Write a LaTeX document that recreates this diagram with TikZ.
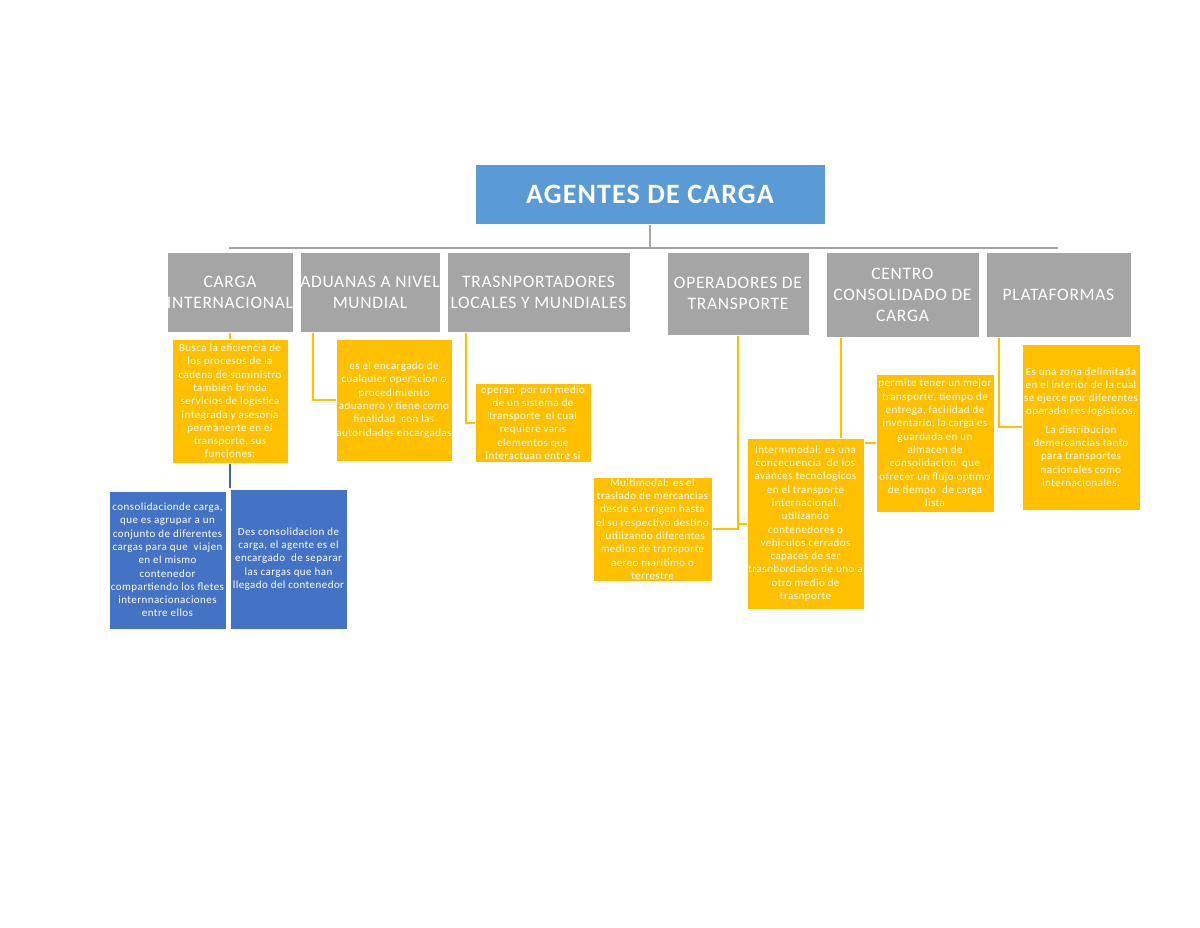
\documentclass[tikz,border=0pt]{standalone}
\usepackage{fontspec}
\setmainfont{Carlito}[LetterSpace=4]
\usetikzlibrary{backgrounds}
\definecolor{hgray}{HTML}{A5A5A5}
\definecolor{tblue}{HTML}{5B9BD5}
\definecolor{yel}{HTML}{FFC000}
\definecolor{dblue}{HTML}{4472C4}
\definecolor{lblue}{HTML}{3A65B5}
\begin{document}
\begin{tikzpicture}[x=1pt,y=-1pt,
  box/.style={rectangle, inner sep=0pt, align=center, text=white, draw=white, line width=0.8pt},
  titlebox/.style={box, fill=tblue, font=\fontsize{28}{32}\selectfont\bfseries},
  headbox/.style={box, fill=hgray, font=\fontsize{17.5}{21}\selectfont},
  ybox/.style={box, fill=yel, font=\fontsize{11}{13.3}\selectfont},
  bbox/.style={box, fill=dblue, font=\fontsize{11}{13.3}\selectfont},
  gline/.style={draw=hgray, line width=2pt},
  yline/.style={draw=yel, line width=2pt},
  bline/.style={draw=lblue, line width=2pt},
  wh/.style 2 args={minimum width=#1pt, minimum height=#2pt}
]
\useasboundingbox (0,0) rectangle (1200,927);

% title
\node[titlebox, wh={350}{60}] (title) at (650,194.5) {AGENTES DE CARGA};

% header boxes
\node[headbox, wh={126}{80}] (h1) at (230,292) {CARGA\\INTERNACIONAL};
\node[headbox, wh={140}{80}] (h2) at (370,292) {ADUANAS A NIVEL\\MUNDIAL};
\node[headbox, wh={183}{80}] (h3) at (538.5,292) {TRASNPORTADORES\\LOCALES Y MUNDIALES};
\node[headbox, wh={142}{83}] (h4) at (738,293.5) {OPERADORES DE\\TRANSPORTE};
\node[headbox, wh={153}{85}] (h5) at (902.5,294.5) {CENTRO\\CONSOLIDADO DE\\CARGA};
\node[headbox, wh={145}{85}] (h6) at (1058.5,294.5) {PLATAFORMAS};

% detail boxes
\node[ybox, wh={116}{124}] (busca) at (230,401) {Busca la eficiencia de\\los procesos de la\\cadena de suministro\\también brinda\\servicios de logística\\integrada y asesoría\\permanente en el\\transporte, sus\\funciones:};
\node[ybox, wh={116}{122}] (adu) at (394,400) {es el encargado de\\cualquier operacion o\\procedimiento\\aduanero y tiene como\\finalidad\ \ con las\\autoridades encargadas};
\node[ybox, wh={116}{79}] (tra) at (533,422.5) {operan\ \ por un medio\\de un sistema de\\transporte\ \ el cual\\requiere varis\\elementos que\\interactuan entre si};
\node[bbox, wh={117}{138}] (b1) at (167.5,560) {consolidacionde carga,\\que es agrupar a un\\conjunto de diferentes\\cargas para que\ \ viajen\\en el mismo\\contenedor\\compartiendo los fletes\\internnacionaciones\\entre ellos};
\node[bbox, wh={117}{140}] (b2) at (288.5,559) {Des consolidacion de\\carga, el agente es el\\encargado\ \ de separar\\las cargas que han\\llegado del contenedor};
\node[ybox, wh={119}{104}] (multi) at (652.5,529) {Multimodal: es el\\traslado de mercancias\\desde su origen hasta\\el su respectivo destino\\, utilizando diferentes\\medios de transporte\\aereo maritimo o\\terrestre};
\node[ybox, wh={117}{171}] (inter) at (805.5,523.5) {Intermmodal: es una\\concecuencia\ \ de los\\avances tecnologicos\\en el transporte\\internacional,\\utilizando\\contenedores o\\vehiculos cerrados\\capaces de ser\\trasnbordados de uno a\\otro medio de\\trasnporte};
\node[ybox, wh={118}{138}] (perm) at (935,443) {permite tener un mejor\\transporte, tiempo de\\entrega, facilidad de\\inventario, la carga es\\guardada en un\\almacen de\\consolidacion\ \ que\\ofrecer un flujo optimo\\de tiempo\ \ de carga\\lista};
\node[ybox, wh={118}{166}] (plat) at (1081,427) {Es una zona delimitada\\en el interior de la cual\\se ejerce por diferentes\\operadorres logisticos.\\[5pt]La distribucion\\demercancias tanto\\para transportes\\nacionales como\\internacionales.};

% free ends of the connectors
\coordinate (hm) at (650,248);
\coordinate (hl) at (229,248);
\coordinate (hr) at (1058,248);
\coordinate (bj) at (230,488);

\begin{scope}[on background layer]
  \fill[white] (0,0) rectangle (1200,927);
  \draw[gline] (title.south) -- (hm);
  \draw[gline] (hl) -- (hr);
  \draw[yline] (h1.south) -- (busca.north);
  \draw[bline] (busca.south) -- (bj);
  \draw[yline] ([xshift=-57pt,yshift=3pt]h2.south) |- (adu.west);
  \draw[yline] ([xshift=-73pt,yshift=3pt]h3.south) |- (tra.west);
  \draw[yline] ([yshift=3pt]h4.south) |- (multi.east);
  \draw[yline] ([yshift=3pt]h4.south) |- (inter.west);
  \draw[yline] ([xshift=-61.5pt,yshift=3pt]h5.south) |- (perm.west);
  \draw[yline] ([xshift=-59.5pt,yshift=3pt]h6.south) |- (plat.west);
\end{scope}
\end{tikzpicture}
\end{document}
